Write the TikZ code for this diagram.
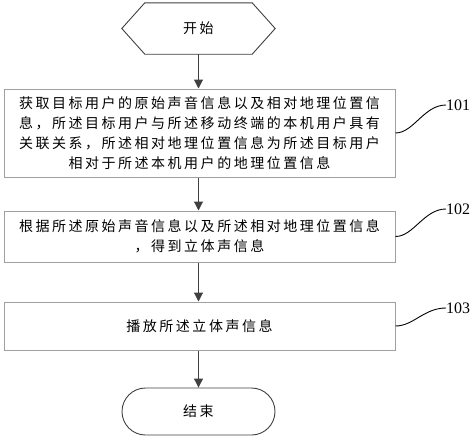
\documentclass[tikz,border=0pt]{standalone}
\usepackage{fontspec}
\newfontfamily\cjk[LetterSpace=18]{Noto Sans CJK SC}
\newfontfamily\numfont{Liberation Serif}
\usetikzlibrary{arrows.meta}
\definecolor{boxgray}{HTML}{A0A0A0}
\definecolor{arrowgray}{HTML}{404040}
\tikzset{
  stepbox/.style={draw=boxgray, line width=1pt, minimum width=391pt, align=center, inner sep=0pt,
    font=\cjk\fontsize{14}{20}\selectfont, text=black},
  termtext/.style={inner sep=0pt, font=\cjk\fontsize{14}{20}\selectfont},
  flow/.style={draw=arrowgray, line width=1.1pt, -{Triangle[width=9pt,length=9pt]}},
  outline/.style={draw=arrowgray, line width=0.9pt},
  reflabel/.style={anchor=west, inner sep=0pt, font=\numfont\fontsize{16}{16}\selectfont},
  refcurve/.style={draw=black, line width=0.9pt}
}
\begin{document}
\begin{tikzpicture}[x=1pt,y=-1pt]
\useasboundingbox (0,0) rectangle (474,440);
% start
\node[termtext, minimum width=153pt, minimum height=51pt] (start) at (198.5,28.5) {开始};
\draw[outline] (start.west) -- ([xshift=23pt]start.north west) -- ([xshift=-23pt]start.north east)
  -- (start.east) -- ([xshift=-23pt]start.south east) -- ([xshift=23pt]start.south west) -- cycle;
% boxes
\node[stepbox, minimum height=88pt] (b1) at (199.5,133) {获取目标用户的原始声音信息以及相对地理位置信\\息，所述目标用户与所述移动终端的本机用户具有\\关联关系，所述相对地理位置信息为所述目标用户\\相对于所述本机用户的地理位置信息};
\node[stepbox, minimum height=51pt] (b2) at (199.5,236.5) {根据所述原始声音信息以及所述相对地理位置信息\\，得到立体声信息};
\node[stepbox, minimum height=48pt] (b3) at (199.5,326) {播放所述立体声信息};
% end
\node[termtext, outline, draw, rounded corners=23.5pt, minimum width=153pt, minimum height=47pt] (end) at (198.5,411.5) {结束};
% arrows
\draw[flow] (start.south) -- (b1.north -| start.south);
\draw[flow] (b1.south -| start.south) -- (b2.north -| start.south);
\draw[flow] (b2.south -| start.south) -- (b3.north -| start.south);
\draw[flow] (b3.south -| start.south) -- (end.north);
% labels
\node[reflabel] (l1) at (446,105) {101};
\node[reflabel] (l2) at (446,209) {102};
\node[reflabel] (l3) at (446,308) {103};
\draw[refcurve] (b1.east) .. controls +(18,0) and +(-22,0) .. (l1.west);
\draw[refcurve] (b2.east) .. controls +(18,0) and +(-22,0) .. (l2.west);
\draw[refcurve] (b3.east) .. controls +(18,0) and +(-22,0) .. (l3.west);
\end{tikzpicture}
\end{document}
